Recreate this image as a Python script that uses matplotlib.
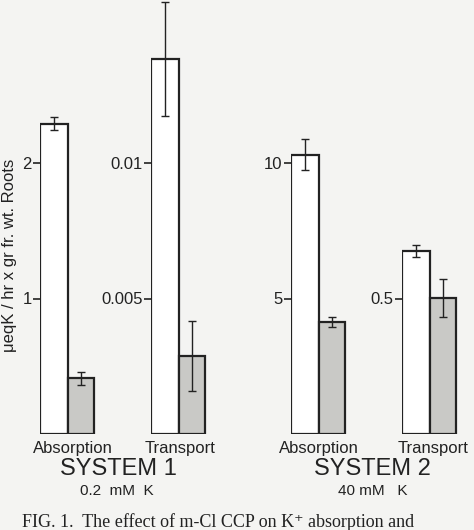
import matplotlib.pyplot as plt

W, H = 474, 530

# panel values: (control, m-Cl CCP), errors
panels = ["abs1", "tr1", "abs2", "tr2"]
control = [2.29, 0.01384, 10.3, 0.675]
treated = [0.41, 0.00288, 4.13, 0.502]
control_err = [0.05, 0.0021, 0.57, 0.022]
treated_err = [0.045, 0.0013, 0.2, 0.07]
ticks = [[1, 2], [0.005, 0.01], [5, 10], [0.5]]
tick_labels = [["1", "2"], ["0.005", "0.01"], ["5", "10"], ["0.5"]]
unit = [1.0, 0.005, 5.0, 0.5]  # value at y=298 px

# axis left x, bottom y=434, one unit = 135.5 px
ax_left = [40, 151, 291, 402]
base_y = 434
px_per_unit = 135.5

plt.rcParams['font.family'] = ['Liberation Sans', 'DejaVu Sans']
fig = plt.figure(figsize=(W / 100, H / 100), dpi=100)
fig.patch.set_facecolor('#f4f4f2')

top_px = 0
for i in range(4):
    x0 = ax_left[i]
    ax = fig.add_axes([x0 / W, (H - base_y) / H, 56 / W, (base_y - top_px) / H])
    ymax = (base_y - top_px) / px_per_unit * unit[i]
    ax.set_xlim(0, 2)
    ax.set_ylim(0, ymax)
    ax.bar([0.5], [control[i]], width=1.0, color='white', edgecolor='#222', lw=1.6)
    ax.bar([1.46], [treated[i]], width=0.92, color='#c9c9c6', edgecolor='#222', lw=1.6)
    ax.errorbar([0.5, 1.46], [control[i], treated[i]], yerr=[control_err[i], treated_err[i]],
                fmt='none', ecolor='#222', elinewidth=1.0, capsize=3)
    ax.set_facecolor('none')
    for s in ['top', 'right', 'bottom', 'left']:
        ax.spines[s].set_visible(False)
    ax.set_xticks([])
    ax.set_yticks(ticks[i])
    ax.set_yticklabels(tick_labels[i], fontsize=12)
    ax.tick_params(axis='y', length=5, width=1.2, pad=1, color='#222', labelcolor='#222')

for x, t in [(73, "Absorption"), (180, "Transport"), (319, "Absorption"), (433, "Transport")]:
    fig.text(x / W, 1 - 448 / H, t, ha='center', va='center', fontsize=12, color='#222')
for x, t in [(118, "SYSTEM 1"), (372, "SYSTEM 2")]:
    fig.text(x / W, 1 - 469 / H, t, ha='center', va='center', fontsize=17, color='#222')
for x, t in [(117, "0.2  mM  K"), (373, "40 mM   K")]:
    fig.text(x / W, 1 - 491 / H, t, ha='center', va='center', fontsize=11, color='#222')
fig.text(10 / W, 1 - 255 / H, "\u03bceqK / hr x gr fr. wt. Roots", rotation=90,
         ha='center', va='center', fontsize=12, color='#222')
fig.text(22 / W, 1 - 522 / H, "FIG. 1.  The effect of m-Cl CCP on K\u207a absorption and",
         ha='left', va='center', fontsize=13, family=['Liberation Serif', 'DejaVu Serif'],
         color='#222')

fig.savefig("out.png", dpi=100, facecolor=fig.get_facecolor())
